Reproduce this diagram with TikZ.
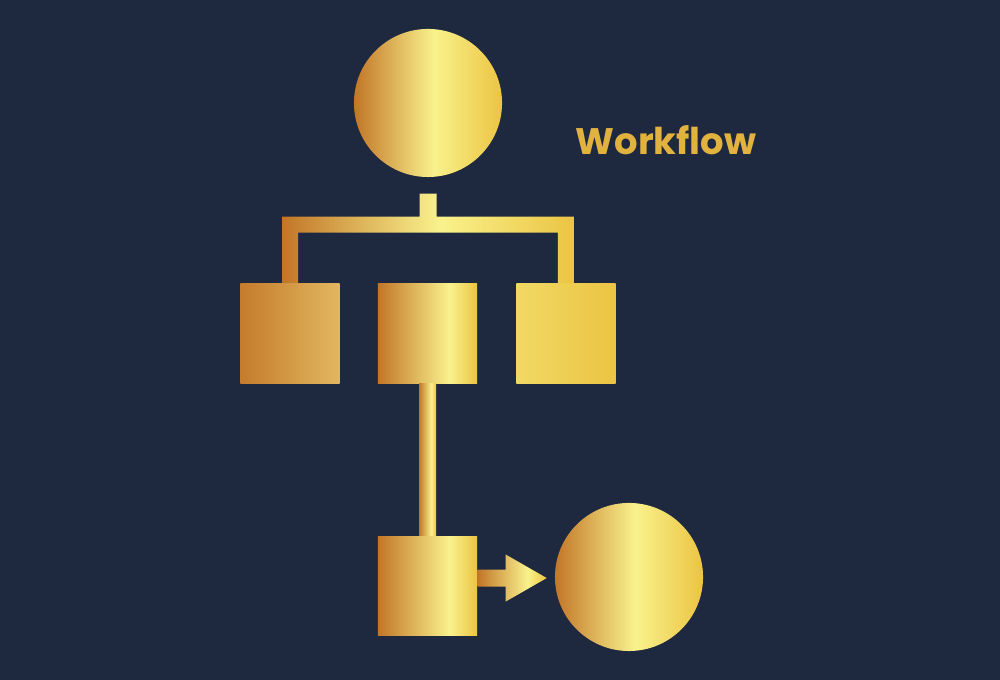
\documentclass[tikz,border=0pt]{standalone}
\usepackage{fontspec}
\usepackage{tikz}
\usetikzlibrary{calc,positioning}
\newfontfamily\titlefont{Poppins}

\definecolor{navy}{HTML}{1E2940}
\definecolor{goldA}{HTML}{C27627}
\definecolor{goldB}{HTML}{F9F28C}
\definecolor{goldC}{HTML}{EBC443}
\definecolor{goldtext}{HTML}{E2B23E}

\pgfdeclarehorizontalshading{goldbox}{100bp}{color(0bp)=(goldA); color(25bp)=(goldA); color(61bp)=(goldB); color(75bp)=(goldC); color(100bp)=(goldC)}
\pgfdeclarehorizontalshading{goldball}{100bp}{color(0bp)=(goldA); color(25bp)=(goldA); color(52bp)=(goldB); color(75bp)=(goldC); color(100bp)=(goldC)}

\begin{document}
\begin{tikzpicture}[x=0.01cm, y=0.01cm,
        task/.style={rectangle, inner sep=0pt, minimum size=0.99cm, shade, shading=goldbox},
        ball/.style={circle, inner sep=0pt, minimum size=1.48cm, shade, shading=goldball}]
        \fill[navy] (0,0) rectangle (1000,680);
        \useasboundingbox (0,0) rectangle (1000,680);

        \node [ball] (start) at (428,577) {};
        \node [task] (taskmid) at (427.5,346.5) {};
        \node [task, shading=axis, left color=goldA!95!goldB, right color=goldC!60!goldA!80!white, left=0.37cm of taskmid] (taskleft) {};
        \node [task, shading=axis, left color=goldB!45!goldC, right color=goldC, right=0.38cm of taskmid] (taskright) {};
        \node [task, below=1.52cm of taskmid] (tasknext) {};
        \node [ball] (finish) at (629,103) {};
        \node [text=goldtext, font=\titlefont\bfseries\fontsize{10.5}{12}\selectfont] (title) at (666,540) {Workflow};

        \coordinate (hub) at ($(start.south)+(0,-47)$);
        \coordinate (tip) at ($(tasknext.east)+(0,8)$);

        % split from the start into three tasks
        \shade[shading=goldball] ($(start.south)+(-8.5,-16)$) -- ($(start.south)+(8.5,-16)$)
            -- ($(hub)+(8.5,8)$) -- ($(hub -| taskright.north)+(8,8)$)
            -- ($(taskright.north)+(8,0)$) -- ($(taskright.north)+(-8,0)$)
            -- ($(hub -| taskright.north)+(-8,-8)$) -- ($(hub -| taskleft.north)+(8,-8)$)
            -- ($(taskleft.north)+(8,0)$) -- ($(taskleft.north)+(-8,0)$)
            -- ($(hub -| taskleft.north)+(-8,8)$) -- ($(hub)+(-8.5,8)$) -- cycle;

        \shade[shading=goldbox] ($(taskmid.south)+(-8.5,0)$) rectangle ($(tasknext.north)+(8.5,0)$);

        % arrow to the end
        \shade[shading=goldbox] ($(tip)+(0,8.5)$) -- ++(28,0) -- ++(0,15) -- ($(tip)+(69,0)$)
            -- ($(tip)+(28,-23.5)$) -- ++(0,15) -- ($(tip)+(0,-8.5)$) -- cycle;
    \end{tikzpicture}
\end{document}
